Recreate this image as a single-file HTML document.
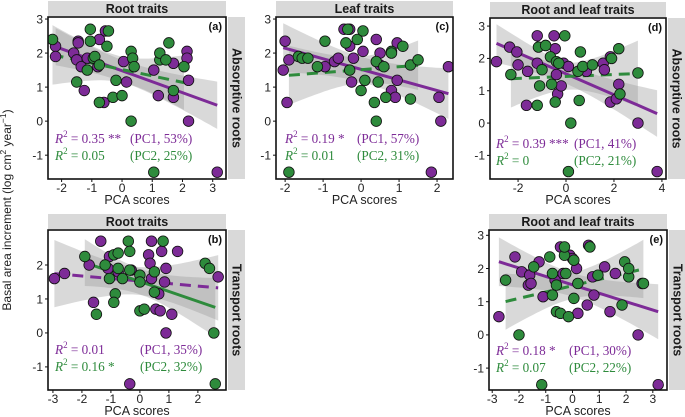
<!DOCTYPE html>
<html><head><meta charset="utf-8"><style>
html,body{margin:0;padding:0;background:#fff;}
svg{display:block;font-family:"Liberation Sans",sans-serif;}
.tick{font-size:12px;fill:#222;}
.serif{font-family:"Liberation Serif",serif;font-size:13.2px;}
</style></head><body>
<svg id="chart" width="685" height="417" viewBox="0 0 685 417"></svg>
<script>
// ---- data ----
const aPurpleX=[-2.2,-2.2,-1.6,-1.5,-1.45,-1.45,-1.35,-1.25,-1.15,-0.75,-0.8,-0.6,-0.55,0.05,0.15,1.05,1.2,1.7,1.7,2.15,2.15,2.2,2.2,3.15];
const aPurpleY=[2.2,1.9,2.0,1.8,2.35,2.3,1.6,0.9,1.85,2.4,1.6,0.55,2.65,1.75,1.15,1.5,0.75,1.7,0.7,2.05,1.85,1.2,0.0,-1.5];
const aGreenX=[-2.3,-1.5,-1.15,-1.05,-1.05,-0.95,-0.9,-0.75,-0.75,-0.5,-0.45,-0.3,-0.2,0,0.3,0.3,0.35,0.4,1.05,1.25,1.25,1.45,1.55,1.7,2.05];
const aGreenY=[2.4,1.15,1.5,2.7,2.35,1.85,1.9,1.65,0.55,2.2,2.65,0.7,1.2,0.75,2.05,0.0,1.85,1.6,-1.5,1.8,2.0,1.8,2.3,0.9,1.6];
const cPurpleX=[-2.05,-2.0,-1.9,-1.95,-0.95,-0.7,-0.6,-0.45,-0.3,-0.3,-0.2,-0.25,0.05,0.4,0.5,0.5,0.8,0.9,0.95,0.95,1.85,2.05,2.1,2.3];
const cPurpleY=[1.5,2.35,1.8,0.55,1.6,1.75,1.85,2.7,2.7,2.2,1.85,1.15,2.05,2.4,1.65,2.0,0.9,0.7,1.2,2.3,-1.5,0.7,0.0,1.6];
const cGreenX=[-1.9,-1.65,-1.55,-1.4,-1.15,-0.95,-0.4,-0.35,-0.3,-0.1,0.05,0,0.1,0.35,0.4,0.45,0.4,0.6,0.65,0.8,0.8,1.1,1.3,1.3,1.5];
const cGreenY=[-1.5,1.9,1.85,1.85,1.6,2.35,2.3,2.7,1.5,2.4,2.65,0.9,1.2,0.55,1.75,1.15,0.0,1.6,0.7,2.05,2.0,2.2,1.65,0.65,1.8];
const dPurpleX=[-2.9,-2.35,-2.05,-2.0,-1.65,-1.6,-1.2,-1.2,-0.85,-0.5,-0.45,-0.4,-0.35,-0.2,-0.1,0.1,0.85,1.55,1.6,1.85,1.85,2.1,2.2,3.0,3.8];
const dPurpleY=[1.9,2.35,2.2,1.8,0.55,1.6,2.7,1.85,2.4,2.7,2.3,1.5,0.9,1.15,1.85,1.75,1.6,1.85,1.65,0.65,2.05,0.75,1.2,0.0,-1.5];
const dGreenX=[-2.3,-1.2,-1.15,-1.1,-1.0,-0.85,-0.65,-0.6,-0.45,-0.4,-0.3,-0.05,0.2,0.1,0.5,0.55,0.6,0.7,1.1,1.9,2.2,2.25,3.0];
const dGreenY=[1.5,0.55,2.35,1.15,1.65,2.4,2.05,1.2,0.65,1.9,1.85,2.7,0.0,-1.5,1.6,0.7,2.2,1.75,1.8,2.0,2.3,0.9,1.55];
const bPurpleX=[-2.95,-2.6,-1.75,-1.6,-1.35,-1.05,-1.1,-0.75,-0.3,0.3,0.35,0.4,0.4,0.55,0.65,0.7,0.75,0.85,0.9,0.9,1.1,1.3,-0.35,2.7];
const bPurpleY=[1.6,1.75,2.0,0.9,2.7,2.25,1.9,1.8,1.85,2.3,2.05,2.7,1.6,0.7,1.15,0.65,2.4,1.5,1.9,0.0,0.55,2.4,-1.5,1.65];
const bGreenX=[-1.9,-1.5,-1.2,-1.05,-0.9,-0.85,-0.9,-0.75,-0.75,-0.6,-0.4,-0.35,-0.35,0,0,0,0.15,0.5,0.5,0.8,2.25,2.4,2.55,2.6];
const bGreenY=[2.25,0.55,2.0,1.6,2.3,1.15,0.9,1.9,2.35,1.6,2.7,2.4,1.85,1.7,1.5,0.65,0.7,1.8,1.2,2.7,2.05,1.9,0.0,-1.5];
const ePurpleX=[-2.75,-2.15,-1.9,-1.65,-1.6,-1.55,-1.25,-1.1,-0.65,-0.45,-0.35,-0.1,0.0,0.15,0.2,0.55,0.6,0.8,0.75,1.2,1.4,1.6,2.45,2.6,3.2];
const ePurpleY=[0.55,2.35,1.9,1.5,1.8,1.55,2.2,1.15,1.65,2.65,1.85,2.4,2.3,2.0,0.65,0.9,2.7,1.2,1.75,2.05,0.7,1.85,0.0,1.55,-1.5];
const eGreenX=[-2.5,-2.0,-1.45,-1.15,-0.85,-0.75,-0.75,-0.6,-0.6,-0.45,-0.3,-0.3,-0.25,-0.15,0.05,0.05,0.2,0.65,0.95,1.85,1.95,2.1,2.1,2.65];
const eGreenY=[1.65,0.0,2.05,-1.5,2.35,1.85,1.2,1.5,0.7,0.65,2.4,2.65,1.85,0.55,2.25,1.1,1.55,2.65,1.8,0.9,2.2,1.75,2.0,1.55];
const r2Labels={a:["0.35 **","0.05","(PC1, 53%)","(PC2, 25%)"],b:["0.01","0.16 *","(PC1, 35%)","(PC2, 32%)"],c:["0.19 *","0.01","(PC1, 57%)","(PC2, 31%)"],d:["0.39 ***","0","(PC1, 41%)","(PC2, 21%)"],e:["0.18 *","0.07","(PC1, 30%)","(PC2, 22%)"]};

const PURPLE="#7d2b97", GREEN="#2e8b3c";
const NS="http://www.w3.org/2000/svg";
const svg=document.getElementById('chart');
function mk(tag,attrs,parent){const e=document.createElementNS(NS,tag);for(const k in attrs)e.setAttribute(k,attrs[k]);(parent||svg).appendChild(e);return e;}

const panels=[
 {id:'a',box:[48,17,226,179],xd:[-2.45,3.44],yd:[-1.7,3.06],xt:[-2,-1,0,1,2,3],yt:[-1,0,1,2,3],title:'Root traits',side:'Absorptive roots',px:aPurpleX,py:aPurpleY,gx:aGreenX,gy:aGreenY,pDash:false,gDash:true,tx:55,ptx:130,ty:143},
 {id:'c',box:[276,17,453,179],xd:[-2.24,2.42],yd:[-1.7,3.06],xt:[-2,-1,0,1,2],yt:[-1,0,1,2,3],title:'Leaf traits',side:null,px:cPurpleX,py:cPurpleY,gx:cGreenX,gy:cGreenY,pDash:false,gDash:true,tx:285,ptx:357,ty:143},
 {id:'d',box:[490,18,666,179],xd:[-3.17,4.17],yd:[-1.73,3.25],xt:[-2,0,2,4],yt:[-1,0,1,2,3],title:'Root and leaf traits',side:'Absorptive roots',px:dPurpleX,py:dPurpleY,gx:dGreenX,gy:dGreenY,pDash:false,gDash:true,tx:496,ptx:574,ty:148},
 {id:'b',box:[48,230,226,390],xd:[-3.17,2.97],yd:[-1.68,3.03],xt:[-3,-2,-1,0,1,2],yt:[-1,0,1,2],title:'Root traits',side:'Transport roots',px:bPurpleX,py:bPurpleY,gx:bGreenX,gy:bGreenY,pDash:true,gDash:false,tx:55,ptx:140,ty:354},
 {id:'e',box:[489,230,667,390],xd:[-3.12,3.53],yd:[-1.66,3.16],xt:[-3,-2,-1,0,1,2,3],yt:[-1,0,1,2,3],title:'Root and leaf traits',side:'Transport roots',px:ePurpleX,py:ePurpleY,gx:eGreenX,gy:eGreenY,pDash:false,gDash:true,tx:496,ptx:569,ty:355}
];

function fit(xs,ys){
 const n=xs.length;let mx=0,my=0;for(let i=0;i<n;i++){mx+=xs[i];my+=ys[i];}mx/=n;my/=n;
 let sxx=0,sxy=0;for(let i=0;i<n;i++){sxx+=(xs[i]-mx)**2;sxy+=(xs[i]-mx)*(ys[i]-my);}
 const b=sxy/sxx,a=my-b*mx;let sse=0;for(let i=0;i<n;i++)sse+=(ys[i]-a-b*xs[i])**2;
 const s=Math.sqrt(sse/(n-2));return{a,b,s,n,mx,sxx,min:Math.min(...xs),max:Math.max(...xs)};
}

panels.forEach(p=>{
 const [x0,y0,x1,y1]=p.box;
 const X=v=>x0+(v-p.xd[0])/(p.xd[1]-p.xd[0])*(x1-x0);
 const Y=v=>y1-(v-p.yd[0])/(p.yd[1]-p.yd[0])*(y1-y0);
 const g=mk('g',{});
 
 
 const st=mk('rect',{x:x0,y:y0-16,width:x1-x0,height:15,fill:'#d9d9d9'},g);
 
 
 const tt=mk('text',{x:(x0+x1)/2,y:y0-4,'text-anchor':'middle','font-size':'12.5','font-weight':'bold',fill:'#1a1a1a'},g);
 tt.textContent=p.title;
 
 
 if(p.side){
  const ss=mk('rect',{x:x1+2,y:y0,width:17,height:y1-y0,fill:'#d9d9d9'},g);
  
  
  const sx=x1+10.5,sy=(y0+y1)/2;
  const stx=mk('text',{x:sx,y:sy,'text-anchor':'middle','dominant-baseline':'central','font-size':'12.5','font-weight':'bold',fill:'#1a1a1a',transform:`rotate(90 ${sx} ${sy})`},g);
  stx.textContent=p.side;
  
  
 }
 const clip=mk('clipPath',{id:'clip'+p.id},g);
 mk('rect',{x:x0,y:y0,width:x1-x0,height:y1-y0},clip);
 const plot=mk('g',{'clip-path':`url(#clip${p.id})`},g);
 const series=[{xs:p.px,ys:p.py,c:PURPLE,dash:p.pDash,name:'pc1'},{xs:p.gx,ys:p.gy,c:GREEN,dash:p.gDash,name:'pc2'}];
 const fits=series.map(s=>fit(s.xs,s.ys));
 series.forEach((s,k)=>{
  const f=fits[k];const t=2.07;const N=40;let up=[],lo=[];
  for(let i=0;i<=N;i++){const x=f.min+(f.max-f.min)*i/N;const yh=f.a+f.b*x;
   const se=f.s*Math.sqrt(1/f.n+(x-f.mx)**2/f.sxx);
   up.push(X(x).toFixed(1)+','+Y(yh+t*se).toFixed(1));lo.unshift(X(x).toFixed(1)+','+Y(yh-t*se).toFixed(1));}
  const band=mk('polygon',{points:up.concat(lo).join(' '),fill:'#9a9a9a','fill-opacity':'0.38'},plot);
  
  
 });
 series.forEach((s,k)=>{
  const f=fits[k];
  const ln=mk('line',{x1:X(f.min),y1:Y(f.a+f.b*f.min),x2:X(f.max),y2:Y(f.a+f.b*f.max),stroke:s.c,'stroke-width':'3'},plot);
  if(s.dash)ln.setAttribute('stroke-dasharray','11,7');
  
  
 });
 series.forEach(s=>{
  s.xs.forEach((xv,i)=>{
   const c=mk('circle',{cx:X(xv),cy:Y(s.ys[i]),r:5.3,fill:s.c,stroke:'#111','stroke-width':'0.8'},plot);
   
   
  });
 });
 const fr=mk('rect',{x:x0,y:y0,width:x1-x0,height:y1-y0,fill:'none',stroke:'#111','stroke-width':'1.6'},g);
 
 
 const lt=mk('text',{x:x1-4,y:y0+13,'text-anchor':'end','font-size':'11','font-weight':'bold',fill:'#111'},g);
 lt.textContent='('+p.id+')';
 
 
 p.xt.forEach(v=>{
  mk('line',{x1:X(v),x2:X(v),y1:y1,y2:y1+3,stroke:'#111','stroke-width':'1'},g);
  const t=mk('text',{x:X(v),y:y1+13,'text-anchor':'middle',class:'tick'},g);
  t.textContent=v;
  
  
 });
 p.yt.forEach(v=>{
  mk('line',{x1:x0-3,x2:x0,y1:Y(v),y2:Y(v),stroke:'#111','stroke-width':'1'},g);
  const t=mk('text',{x:x0-5,y:Y(v)+4.3,'text-anchor':'end',class:'tick'},g);
  t.textContent=v;
  
  
 });
 const xl=mk('text',{x:(x0+x1)/2,y:y1+25,'text-anchor':'middle','font-size':'12.5',fill:'#222'},g);
 xl.textContent='PCA scores';
 
 
 const L=r2Labels[p.id];
 [[PURPLE,L[0],L[2],0],[GREEN,L[1],L[3],17]].forEach(([col,r,pc,dy])=>{
  const t=mk('text',{x:p.tx,y:p.ty+dy,class:'serif',fill:col},g);
  t.innerHTML='<tspan font-style="italic">R</tspan><tspan dy="-6" font-size="9">2</tspan><tspan dy="6"> = '+r+'</tspan>';
  
  
  const t2=mk('text',{x:p.ptx,y:p.ty+dy,class:'serif',fill:col},g);
  t2.textContent=pc;
  
  
 });
});
const yt=mk('text',{x:11,y:210,'text-anchor':'middle','font-size':'12',fill:'#222',transform:'rotate(-90 11 210)'});
yt.innerHTML='Basal area increment (log cm<tspan dy="-5" font-size="8.5">2</tspan><tspan dy="5"> year</tspan><tspan dy="-5" font-size="8.5">−1</tspan><tspan dy="5">)</tspan>';


</script>
</body></html>
